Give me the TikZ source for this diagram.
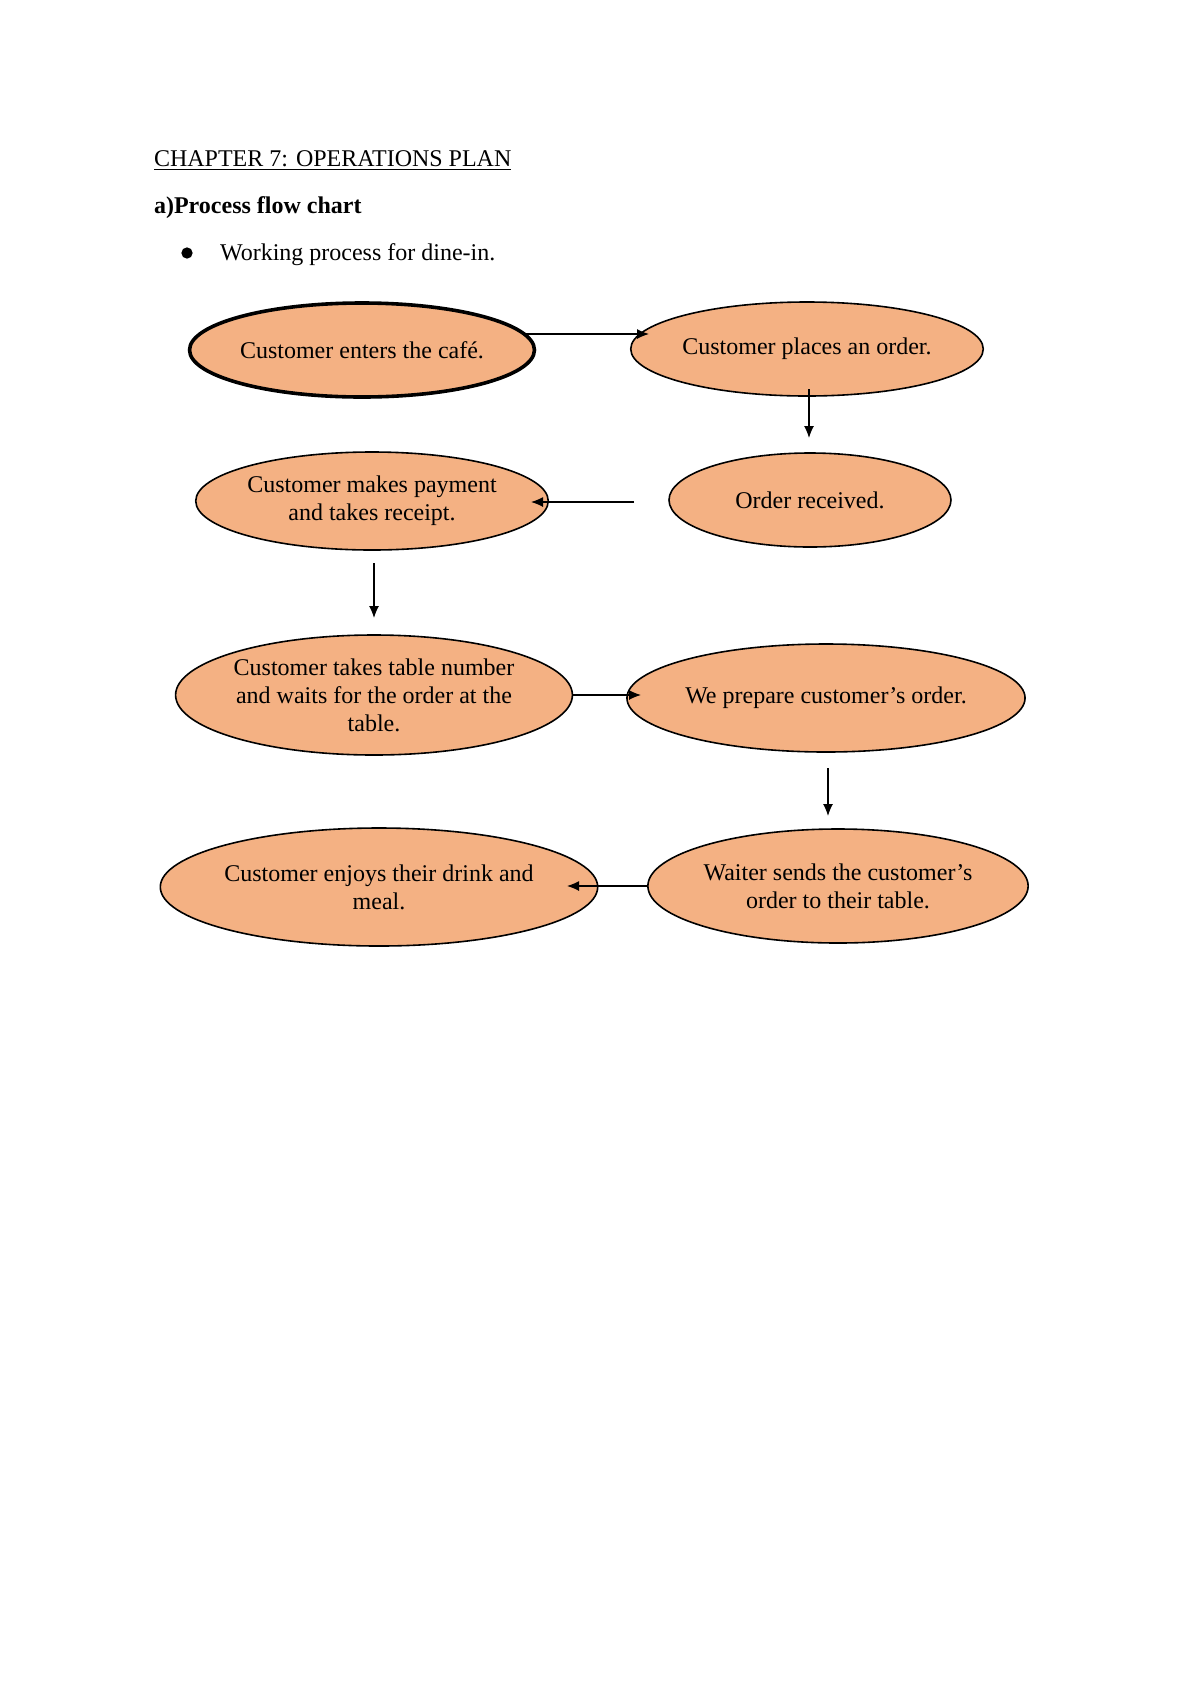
\documentclass[tikz,border=0pt]{standalone}
\usepackage{fontspec}
\setmainfont{Liberation Serif}
\usetikzlibrary{shapes.geometric,arrows.meta}
\definecolor{peach}{HTML}{F4B183}
\begin{document}
\begin{tikzpicture}[x=0.5pt,y=-0.5pt,
  oval/.style={ellipse,draw=black,line width=0.8pt,fill=peach,inner sep=0pt,font=\fontsize{12}{14}\selectfont,align=center},
  arr/.style={-{Latex[length=6pt,width=5pt]},line width=0.6pt}]
\useasboundingbox (0,0) rectangle (1200,1698);
\node[anchor=base west,font=\fontsize{12}{14}\selectfont] (t1) at (147,166) {\underline{CHAPTER 7: OPERATIONS PLAN}};
\node[anchor=base west,font=\fontsize{12}{14}\selectfont\bfseries] (t2) at (147,213) {a)Process flow chart};
\node[circle,fill=black,inner sep=2pt] (b) at (187,253) {};
\node[anchor=base west,font=\fontsize{12}{14}\selectfont] (t3) at (213,260) {Working process for dine-in.};
\node[oval,line width=1.8pt,minimum width=142pt,minimum height=47pt] (e1) at (362,350) {Customer enters the café.};
\node[oval,minimum width=141pt,minimum height=47pt] (e2) at (807,349) {Customer places an order.};
\node[oval,minimum width=141pt,minimum height=47pt] (e3) at (810,500) {Order received.};
\node[oval,minimum width=147pt,minimum height=49pt] (e4) at (372,501) {Customer makes payment\\and takes receipt.};
\node[oval,minimum width=178pt,minimum height=60pt] (e5) at (374,695) {Customer takes table number\\and waits for the order at the\\table.};
\node[oval,minimum width=161pt,minimum height=54pt] (e6) at (826,698) {We prepare customer's order.};
\node[oval,minimum width=160pt,minimum height=57pt] (e7) at (838,886) {Waiter sends the customer's\\order to their table.};
\node[oval,minimum width=178pt,minimum height=59pt] (e8) at (379,887) {Customer enjoys their drink and\\meal.};
\coordinate (a1) at (522,334); \coordinate (a2) at (649,334);
\coordinate (b1) at (809,389); \coordinate (b2) at (809,438);
\coordinate (c1) at (634,502); \coordinate (c2) at (531,502);
\coordinate (d1) at (374,563); \coordinate (d2) at (374,618);
\coordinate (f1) at (573,695); \coordinate (f2) at (641,695);
\coordinate (g1) at (828,768); \coordinate (g2) at (828,816);
\coordinate (h1) at (647,886); \coordinate (h2) at (567,886);
\draw[arr] (a1)--(a2);
\draw[arr] (b1)--(b2);
\draw[arr] (c1)--(c2);
\draw[arr] (d1)--(d2);
\draw[arr] (f1)--(f2);
\draw[arr] (g1)--(g2);
\draw[arr] (h1)--(h2);
\end{tikzpicture}
\end{document}
